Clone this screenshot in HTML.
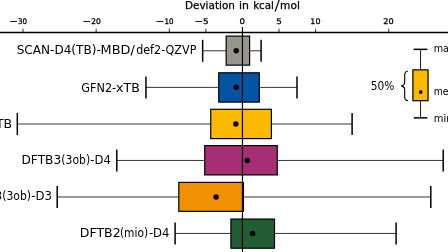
<!DOCTYPE html>
<html><head><meta charset="utf-8"><style>
html,body{margin:0;padding:0;background:#fff;overflow:hidden;}
svg{display:block;}
text{font-family:'DejaVu Sans', 'Liberation Sans', sans-serif;fill:#000;}
.k{stroke:#000;stroke-width:0.3px;}
.t{stroke:#000;stroke-width:0.25px;}
</style></head><body>
<svg width="448" height="252" viewBox="0 0 448 252">
<text x="184.98" y="8.9" font-size="10.2" textLength="49.91" lengthAdjust="spacingAndGlyphs" class="t">Deviation</text>
<text x="239.07" y="8.9" font-size="10.2" textLength="9.96" lengthAdjust="spacingAndGlyphs" class="t">in</text>
<text x="253.16" y="8.9" font-size="10.2" textLength="20.80" lengthAdjust="spacingAndGlyphs" class="t">kcal</text>
<text x="280.13" y="8.9" font-size="10.2" textLength="19.87" lengthAdjust="spacingAndGlyphs" class="t">mol</text>
<text x="274.40" y="10.4" font-size="13.2" textLength="5.30" lengthAdjust="spacingAndGlyphs">/</text>
<text x="9.43" y="24.0" font-size="7.7" textLength="8.43" lengthAdjust="spacingAndGlyphs" class="k">−</text>
<text x="17.96" y="24.0" font-size="7.7" textLength="9.01" lengthAdjust="spacingAndGlyphs" class="k">30</text>
<text x="82.78" y="24.0" font-size="7.7" textLength="8.10" lengthAdjust="spacingAndGlyphs" class="k">−</text>
<text x="91.20" y="24.0" font-size="7.7" textLength="9.60" lengthAdjust="spacingAndGlyphs" class="k">20</text>
<text x="155.79" y="24.0" font-size="7.7" textLength="8.37" lengthAdjust="spacingAndGlyphs" class="k">−</text>
<text x="164.51" y="24.0" font-size="7.7" textLength="9.11" lengthAdjust="spacingAndGlyphs" class="k">10</text>
<text x="194.65" y="24.0" font-size="7.7" textLength="8.30" lengthAdjust="spacingAndGlyphs" class="k">−</text>
<text x="203.11" y="24.0" font-size="7.7" textLength="5.67" lengthAdjust="spacingAndGlyphs" class="k">5</text>
<text x="239.49" y="24.0" font-size="7.7" textLength="5.43" lengthAdjust="spacingAndGlyphs" class="k">0</text>
<text x="276.17" y="24.0" font-size="7.7" textLength="5.60" lengthAdjust="spacingAndGlyphs" class="k">5</text>
<text x="310.37" y="24.0" font-size="7.7" textLength="10.16" lengthAdjust="spacingAndGlyphs" class="k">10</text>
<text x="383.20" y="24.0" font-size="7.7" textLength="10.45" lengthAdjust="spacingAndGlyphs" class="k">20</text>
<line x1="23.00" y1="28.7" x2="23.00" y2="32" stroke="#000" stroke-width="0.8"/>
<line x1="96.15" y1="28.7" x2="96.15" y2="32" stroke="#000" stroke-width="0.8"/>
<line x1="169.30" y1="28.7" x2="169.30" y2="32" stroke="#000" stroke-width="0.8"/>
<line x1="205.88" y1="28.7" x2="205.88" y2="32" stroke="#000" stroke-width="0.8"/>
<line x1="279.02" y1="28.7" x2="279.02" y2="32" stroke="#000" stroke-width="0.8"/>
<line x1="315.60" y1="28.7" x2="315.60" y2="32" stroke="#000" stroke-width="0.8"/>
<line x1="388.75" y1="28.7" x2="388.75" y2="32" stroke="#000" stroke-width="0.8"/>
<line x1="0" y1="32.5" x2="448" y2="32.5" stroke="#000" stroke-width="1.4"/>
<line x1="202.65" y1="50.80" x2="261.10" y2="50.80" stroke="#000" stroke-width="0.8"/>
<line x1="202.65" y1="39.80" x2="202.65" y2="61.80" stroke="#000" stroke-width="1.5"/>
<line x1="261.10" y1="39.80" x2="261.10" y2="61.80" stroke="#000" stroke-width="1.5"/>
<rect x="226.15" y="36.10" width="23.45" height="29.05" fill="#96968a" stroke="#000" stroke-width="1.2"/>
<circle cx="236.25" cy="50.80" r="2.75" fill="#000"/>
<text x="16.70" y="54" font-size="11.4" textLength="84.08" lengthAdjust="spacingAndGlyphs">SCAN-D4(TB)-</text>
<text x="100.64" y="54" font-size="11.4" textLength="34.16" lengthAdjust="spacingAndGlyphs">MBD/</text>
<text x="136.18" y="54" font-size="11.4" textLength="60.20" lengthAdjust="spacingAndGlyphs">def2-QZVP</text>
<line x1="145.95" y1="87.40" x2="297.00" y2="87.40" stroke="#000" stroke-width="0.8"/>
<line x1="145.95" y1="76.40" x2="145.95" y2="98.40" stroke="#000" stroke-width="1.5"/>
<line x1="297.00" y1="76.40" x2="297.00" y2="98.40" stroke="#000" stroke-width="1.5"/>
<rect x="218.75" y="72.80" width="40.55" height="29.30" fill="#0454a6" stroke="#000" stroke-width="1.2"/>
<circle cx="236.20" cy="87.30" r="2.75" fill="#000"/>
<text x="81.37" y="92" font-size="11.4" textLength="34.78" lengthAdjust="spacingAndGlyphs">GFN2-</text>
<text x="116.14" y="92" font-size="11.4" textLength="23.65" lengthAdjust="spacingAndGlyphs">xTB</text>
<line x1="17.30" y1="124.00" x2="352.10" y2="124.00" stroke="#000" stroke-width="0.8"/>
<line x1="17.30" y1="113.00" x2="17.30" y2="135.00" stroke="#000" stroke-width="1.5"/>
<line x1="352.10" y1="113.00" x2="352.10" y2="135.00" stroke="#000" stroke-width="1.5"/>
<rect x="210.75" y="109.30" width="60.65" height="29.30" fill="#fbba00" stroke="#000" stroke-width="1.2"/>
<circle cx="235.80" cy="124.10" r="2.75" fill="#000"/>
<text x="-46.23" y="128" font-size="11.4" textLength="34.78" lengthAdjust="spacingAndGlyphs">GFN1-</text>
<text x="-11.46" y="128" font-size="11.4" textLength="23.65" lengthAdjust="spacingAndGlyphs">xTB</text>
<line x1="116.80" y1="160.45" x2="443.20" y2="160.45" stroke="#000" stroke-width="0.8"/>
<line x1="116.80" y1="149.45" x2="116.80" y2="171.45" stroke="#000" stroke-width="1.5"/>
<line x1="443.20" y1="149.45" x2="443.20" y2="171.45" stroke="#000" stroke-width="1.5"/>
<rect x="204.75" y="145.60" width="72.50" height="29.30" fill="#a52e74" stroke="#000" stroke-width="1.2"/>
<circle cx="247.30" cy="160.45" r="2.75" fill="#000"/>
<text x="21.51" y="164" font-size="11.4" textLength="39.66" lengthAdjust="spacingAndGlyphs">DFTB3</text>
<text x="61.27" y="164" font-size="11.4" textLength="28.86" lengthAdjust="spacingAndGlyphs">(3ob)</text>
<text x="90.33" y="164" font-size="11.4" textLength="20.52" lengthAdjust="spacingAndGlyphs">-D4</text>
<line x1="57.20" y1="197.00" x2="430.80" y2="197.00" stroke="#000" stroke-width="0.8"/>
<line x1="57.20" y1="186.00" x2="57.20" y2="208.00" stroke="#000" stroke-width="1.5"/>
<line x1="430.80" y1="186.00" x2="430.80" y2="208.00" stroke="#000" stroke-width="1.5"/>
<rect x="178.80" y="182.40" width="64.65" height="28.95" fill="#f39200" stroke="#000" stroke-width="1.2"/>
<circle cx="216.10" cy="197.10" r="2.75" fill="#000"/>
<text x="-37.60" y="200" font-size="11.4" textLength="39.97" lengthAdjust="spacingAndGlyphs">DFTB3</text>
<text x="2.27" y="200" font-size="11.4" textLength="28.76" lengthAdjust="spacingAndGlyphs">(3ob)</text>
<text x="31.33" y="200" font-size="11.4" textLength="20.71" lengthAdjust="spacingAndGlyphs">-D3</text>
<line x1="175.10" y1="233.45" x2="396.10" y2="233.45" stroke="#000" stroke-width="0.8"/>
<line x1="175.10" y1="222.45" x2="175.10" y2="244.45" stroke="#000" stroke-width="1.5"/>
<line x1="396.10" y1="222.45" x2="396.10" y2="244.45" stroke="#000" stroke-width="1.5"/>
<rect x="230.90" y="219.05" width="43.60" height="29.15" fill="#215e34" stroke="#000" stroke-width="1.2"/>
<circle cx="252.55" cy="233.50" r="2.75" fill="#000"/>
<text x="79.78" y="237" font-size="11.4" textLength="40.87" lengthAdjust="spacingAndGlyphs">DFTB2</text>
<text x="119.88" y="237" font-size="11.4" textLength="28.24" lengthAdjust="spacingAndGlyphs">(mio)</text>
<text x="148.93" y="237" font-size="11.4" textLength="20.57" lengthAdjust="spacingAndGlyphs">-D4</text>
<line x1="242.45" y1="27" x2="242.45" y2="252" stroke="#000" stroke-width="1.2"/>
<line x1="420.55" y1="49.4" x2="420.55" y2="69.8" stroke="#000" stroke-width="0.9"/>
<line x1="420.55" y1="100.7" x2="420.55" y2="117.8" stroke="#000" stroke-width="0.9"/>
<line x1="413.6" y1="49.35" x2="427.4" y2="49.35" stroke="#000" stroke-width="1.5"/>
<line x1="413.8" y1="117.85" x2="427.3" y2="117.85" stroke="#000" stroke-width="1.5"/>
<rect x="412.9" y="69.85" width="15.15" height="30.85" fill="#fbba00" stroke="#000" stroke-width="1.2"/>
<circle cx="420.7" cy="92.1" r="1.9" fill="#000"/>
<path d="M408.0,71.0 C405.8,71.3 404.7,72.6 404.7,75 L404.7,81.8 C404.7,84.2 403.6,85.5 401.2,85.9 C403.6,86.3 404.7,87.6 404.7,90 L404.7,97.2 C404.7,99.3 405.8,100.5 408.0,100.8" fill="none" stroke="#000" stroke-width="1.1"/>
<text x="370.68" y="89.5" font-size="11.4" textLength="23.66" lengthAdjust="spacingAndGlyphs">50%</text>
<text x="433.7" y="52.1" font-size="10" textLength="21" lengthAdjust="spacingAndGlyphs">max</text>
<text x="433.7" y="94.9" font-size="10" textLength="26.6" lengthAdjust="spacingAndGlyphs">mean</text>
<text x="433.7" y="121.5" font-size="10" textLength="18.8" lengthAdjust="spacingAndGlyphs">min</text>
</svg>
</body></html>
